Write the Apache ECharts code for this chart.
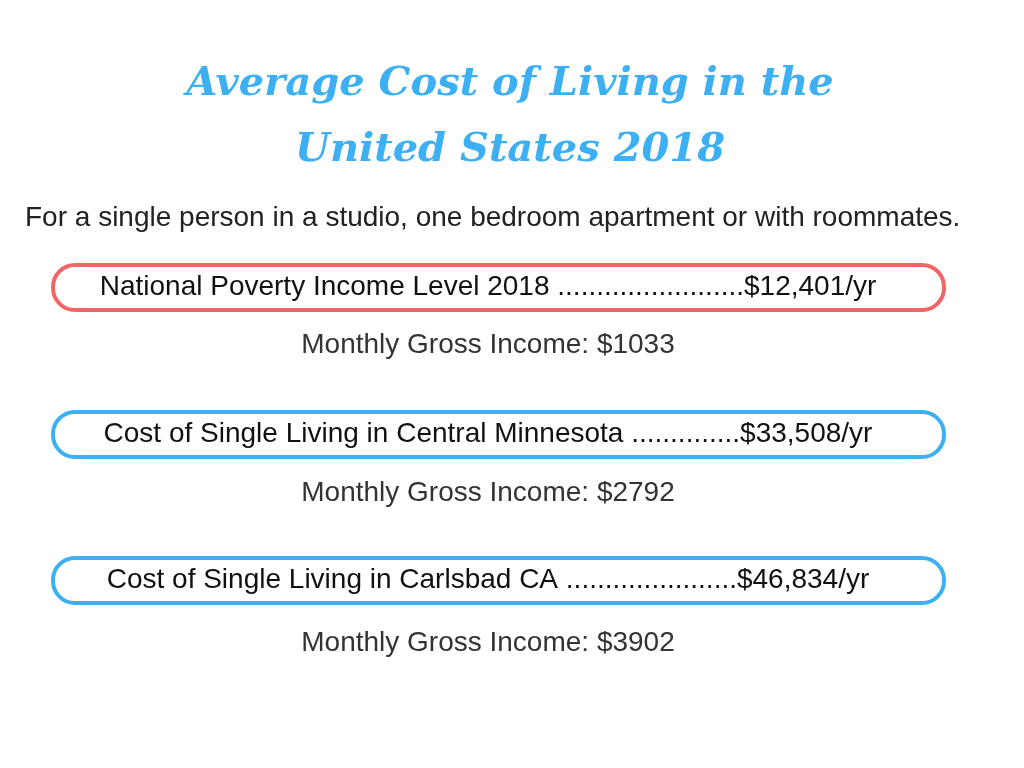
<!DOCTYPE html>
<html><head><meta charset="utf-8">
<script src="https://cdn.jsdelivr.net/npm/echarts@6/dist/echarts.min.js"></script>
<style>html,body{margin:0;padding:0;background:#fff}#c{width:1024px;height:768px}</style>
</head><body><div id="c"></div>
<script>
const titleLines = ["Average Cost of Living in the", "United States 2018"];
const subtitle = "For a single person in a studio, one bedroom apartment or with roommates.";
const labels = ["National Poverty Income Level 2018 ........................", "Cost of Single Living in Central Minnesota ..............", "Cost of Single Living in Carlsbad CA ......................"];
const annual = ["$12,401/yr", "$33,508/yr", "$46,834/yr"];
const monthly = ["$1033", "$2792", "$3902"];
const borderColors = ["#f26566", "#3cb0f2", "#3cb0f2"];

const boxTops = [265, 412, 558];
const monthY = [345, 493, 643];
const g = [];
titleLines.forEach((t, i) => g.push({type:'text', x:510, y: 85 + i*66,
  style:{text:t, fill:'#3cb0f2', font:'italic bold 40px "DejaVu Serif"', align:'center', verticalAlign:'middle'}}));
g.push({type:'text', x:25, y:218, style:{text:subtitle, fill:'#222', font:'28px "Liberation Sans"', verticalAlign:'middle'}});
labels.forEach((l, i) => {
  g.push({type:'rect', shape:{x:53, y:boxTops[i], width:891, height:45, r:22},
    style:{fill:'#fff', stroke:borderColors[i], lineWidth:4}});
  g.push({type:'text', x:488, y:boxTops[i]+22.5,
    style:{text:l + annual[i], fill:'#111', font:'28px "Liberation Sans"', align:'center', verticalAlign:'middle'}});
  g.push({type:'text', x:488, y:monthY[i],
    style:{text:'Monthly Gross Income: ' + monthly[i], fill:'#333', font:'28px "Liberation Sans"', align:'center', verticalAlign:'middle'}});
});
const chart = echarts.init(document.getElementById('c'));
chart.setOption({backgroundColor:'#fff', graphic:g});
</script></body></html>
